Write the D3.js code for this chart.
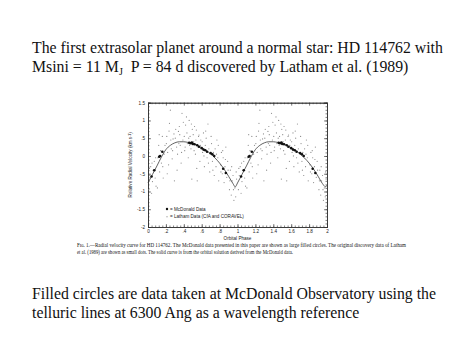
<!DOCTYPE html>
<html>
<head>
<meta charset="utf-8">
<script src="https://cdn.jsdelivr.net/npm/d3@7"></script>
<style>
  body { margin: 0; background: #fff; }
  svg { display: block; }
</style>
</head>
<body>
<svg id="chart" width="474" height="355"></svg>
<script>
// text
const titleLines = ["The first extrasolar planet around a normal star: HD 114762 with"];
const captionLines = [
  "Fɪɢ. 1.\u2014Radial velocity curve for HD 114762. The McDonald data presented in this paper are shown as large filled circles. The original discovery data of Latham",
  "et al. (1989) are shown as small dots. The solid curve is from the orbital solution derived from the McDonald data."
];
const noteLines = [
  "Filled circles are data taken at McDonald Observatory using the",
  "telluric lines at 6300 Ang as a wavelength reference"
];

// axes
const xTicks = [0, 0.2, 0.4, 0.6, 0.8, 1, 1.2, 1.4, 1.6, 1.8, 2];
const xTickLabels = ["0", ".2", ".4", ".6", ".8", "1", "1.2", "1.4", "1.6", "1.8", "2"];
const yTicks = [1.5, 1, 0.5, 0, -0.5, -1, -1.5, -2];
const yTickLabels = ["1.5", "1", ".5", "0", "-.5", "-1", "-1.5", "-2"];

// orbital solution (phase, km/s)
const curvePhase = [0, 0.05, 0.1, 0.15, 0.2, 0.25, 0.3, 0.35, 0.4, 0.45, 0.5, 0.55, 0.6, 0.65, 0.7, 0.75, 0.8, 0.85, 0.9, 0.95, 0.975,
  1.0, 1.05, 1.1, 1.15, 1.2, 1.25, 1.3, 1.35, 1.4, 1.45, 1.5, 1.55, 1.6, 1.65, 1.7, 1.75, 1.8, 1.85, 1.9, 1.95, 1.985, 2.0];
const curveVel = [-0.76, -0.52, -0.28, -0.03, 0.18, 0.3, 0.37, 0.4, 0.4, 0.38, 0.35, 0.3, 0.23, 0.15, 0.06, -0.06, -0.2, -0.37, -0.57, -0.78, -0.87,
  -0.76, -0.52, -0.28, -0.03, 0.18, 0.3, 0.37, 0.4, 0.4, 0.38, 0.35, 0.3, 0.23, 0.15, 0.06, -0.06, -0.2, -0.37, -0.57, -0.78, -0.87, -0.82];

// McDonald data (phase folded, plotted twice)
const mcdPhase = [0.04, 0.07, 0.125, 0.135, 0.16, 0.46, 0.475, 0.49, 0.5, 0.52, 0.55, 0.57, 0.6, 0.62, 0.64, 0.66, 0.7, 0.72, 0.74, 0.84, 0.87];
const mcdVel = [-0.58, -0.4, -0.02, 0.0, 0.12, 0.37, 0.36, 0.38, 0.34, 0.33, 0.3, 0.26, 0.22, 0.18, 0.16, 0.12, 0.08, 0.05, 0.0, -0.36, -0.48];

// Latham et al. data (phase folded, plotted twice)
const lathamPhase = [
  0.01, 0.02, 0.03, 0.04, 0.05, 0.06, 0.07, 0.08, 0.09,
  0.11, 0.12, 0.13, 0.14, 0.15, 0.16, 0.17, 0.18, 0.19,
  0.21, 0.22, 0.23, 0.24, 0.25, 0.26, 0.27, 0.28, 0.29, 0.295,
  0.31, 0.32, 0.33, 0.34, 0.35, 0.36, 0.37, 0.38, 0.39, 0.395,
  0.41, 0.42, 0.43, 0.44, 0.45, 0.46, 0.47, 0.48, 0.49, 0.495,
  0.51, 0.52, 0.53, 0.54, 0.55, 0.56, 0.57, 0.58, 0.59,
  0.61, 0.62, 0.63, 0.64, 0.65, 0.66, 0.67, 0.68, 0.69,
  0.71, 0.72, 0.73, 0.74, 0.75, 0.76, 0.77, 0.78, 0.79,
  0.81, 0.82, 0.83, 0.84, 0.85, 0.86, 0.87, 0.88, 0.89,
  0.91, 0.92, 0.93, 0.94, 0.95, 0.96, 0.97, 0.98, 0.99,
  0.015, 0.045, 0.085, 0.105, 0.125, 0.165, 0.205, 0.215, 0.235, 0.255,
  0.275, 0.305, 0.325, 0.345, 0.355, 0.375, 0.405, 0.415, 0.435, 0.455,
  0.465, 0.485, 0.505, 0.515, 0.535, 0.545, 0.565, 0.585, 0.605, 0.625,
  0.645, 0.675, 0.705, 0.725, 0.765, 0.785, 0.815, 0.835, 0.865, 0.895,
  0.915, 0.935, 0.955, 0.985
];
const lathamVel = [
  -0.95, -0.55, -0.3, -1.05, -0.72, -0.4, -0.15, -0.62, -0.85,
  -0.05, 0.3, -0.45, 0.15, -0.2, 0.55, -0.62, 0.05, 0.3,
  0.55, 0.1, -0.25, 0.92, 1.29, 0.2, -0.08, 0.48, 0.62, -0.7,
  0.75, 0.25, 0.05, 0.69, 0.83, 0.3, -0.2, 1.2, 0.45, 0.95,
  0.15, 0.87, 1.1, 0.35, -0.05, 1.0, 0.55, 0.2, -0.65, 0.75,
  0.4, 0.83, 0.05, 0.73, -0.7, 0.25, 0.59, -0.15, 0.45,
  0.1, 0.65, -0.3, 0.3, 0.5, -0.05, 0.9, 0.2, -0.45,
  0.35, -0.15, 0.1, -0.55, 0.2, -0.3, 0.45, -0.05, -0.7,
  -0.25, 0.1, -0.5, -0.05, -0.75, -0.3, 0.25, -0.6, -0.15,
  -0.95, -0.4, -1.1, -0.7, -0.55, -1.25, -0.9, -1.15, -0.65,
  -0.35, -0.2, -0.05, -0.9, 0.6, -0.3, 0.35, -0.5, 0.7, 0.45,
  0.15, 0.5, -0.4, 0.35, 0.6, 0.1, 0.55, 0.25, 0.65, 0.5,
  0.3, 0.9, 0.6, 0.15, 0.45, -0.35, 0.55, 0.3, 0.4, 0.0,
  0.7, -0.2, 0.55, -0.4, 0.05, 0.3, -0.45, 0.15, -0.1, -0.4,
  -0.7, -0.3, -0.95, -0.45
];

const svg = d3.select("#chart");
svg.append("rect").attr("width", 474).attr("height", 355).attr("fill", "#fff");

// heading
const serif = "'Liberation Serif', 'Times New Roman', serif";
const title = svg.append("text")
  .attr("font-family", serif).attr("font-size", 15.8).attr("fill", "#111");
title.append("tspan").attr("x", 32).attr("y", 53).text(titleLines[0]);
const t2 = title.append("tspan").attr("x", 32).attr("y", 72);
t2.append("tspan").text("Msini = 11 M");
t2.append("tspan").attr("font-size", 10).attr("dy", 3).text("J");
t2.append("tspan").attr("dy", -3).text("\u00a0 P = 84 d discovered by Latham et al. (1989)");

// plot
const x = d3.scaleLinear().domain([0, 2]).range([148, 327]);
const y = d3.scaleLinear().domain([-2, 1.5]).range([227, 102.7]);
const sans = "'Liberation Sans', Arial, sans-serif";
const ink = "#333";

const plot = svg.append("g").attr("font-family", sans);

const xMinor = d3.range(0, 2.0001, 0.04);
const yMinor = d3.range(-2, 1.5001, 0.1);

function styleAxis(g) {
  g.select(".domain").attr("stroke", ink).attr("stroke-width", 0.8);
  g.selectAll(".tick line").attr("stroke", ink).attr("stroke-width", 0.6);
  g.selectAll(".tick text").attr("fill", "#222").attr("font-size", 4.6).attr("font-family", sans);
}

plot.append("g").attr("transform", `translate(0,${y(-2)})`)
  .call(d3.axisBottom(x).tickValues(xTicks).tickSize(-3).tickPadding(3)
    .tickFormat((d, i) => xTickLabels[i]))
  .call(styleAxis);
plot.append("g").attr("transform", `translate(0,${y(-2)})`)
  .call(d3.axisBottom(x).tickValues(xMinor).tickSize(-1.5).tickFormat(""))
  .call(styleAxis);
plot.append("g").attr("transform", `translate(0,${y(1.5)})`)
  .call(d3.axisTop(x).tickValues(xTicks).tickSize(-3).tickFormat(""))
  .call(styleAxis);
plot.append("g").attr("transform", `translate(0,${y(1.5)})`)
  .call(d3.axisTop(x).tickValues(xMinor).tickSize(-1.5).tickFormat(""))
  .call(styleAxis);

plot.append("g").attr("transform", `translate(${x(0)},0)`)
  .call(d3.axisLeft(y).tickValues(yTicks).tickSize(-3).tickPadding(3)
    .tickFormat((d, i) => yTickLabels[i]))
  .call(styleAxis);
plot.append("g").attr("transform", `translate(${x(0)},0)`)
  .call(d3.axisLeft(y).tickValues(yMinor).tickSize(-1.5).tickFormat(""))
  .call(styleAxis);
plot.append("g").attr("transform", `translate(${x(2)},0)`)
  .call(d3.axisRight(y).tickValues(yTicks).tickSize(-3).tickFormat(""))
  .call(styleAxis);
plot.append("g").attr("transform", `translate(${x(2)},0)`)
  .call(d3.axisRight(y).tickValues(yMinor).tickSize(-1.5).tickFormat(""))
  .call(styleAxis);

// axis titles
plot.append("text")
  .attr("x", (x(0) + x(2)) / 2).attr("y", 240)
  .attr("text-anchor", "middle").attr("font-size", 4.6).attr("fill", "#222")
  .text("Orbital Phase");
const yl = plot.append("text")
  .attr("transform", `translate(132,${(y(-2) + y(1.5)) / 2}) rotate(-90)`)
  .attr("text-anchor", "middle").attr("font-size", 4.6).attr("fill", "#222");
yl.append("tspan").text("Relative Radial Velocity (km s");
yl.append("tspan").attr("font-size", 3.4).attr("dy", -1.5).text("-1");
yl.append("tspan").attr("dy", 1.5).text(")");

// Latham small dots
const lathamPts = [];
[0, 1].forEach(off => lathamPhase.forEach((p, i) => lathamPts.push([p + off, lathamVel[i]])));
plot.append("g").selectAll("circle").data(lathamPts).join("circle")
  .attr("cx", d => x(d[0])).attr("cy", d => y(d[1]))
  .attr("r", 0.6).attr("fill", "#8a8a8a");

// orbital solution curve
const curvePts = curvePhase.map((p, i) => [p, curveVel[i]]);
plot.append("path").datum(curvePts)
  .attr("fill", "none").attr("stroke", "#3a3a3a").attr("stroke-width", 0.8)
  .attr("d", d3.line().x(d => x(d[0])).y(d => y(d[1])).curve(d3.curveMonotoneX));

// McDonald large dots
const mcdPts = [];
[0, 1].forEach(off => mcdPhase.forEach((p, i) => mcdPts.push([p + off, mcdVel[i]])));
plot.append("g").selectAll("circle").data(mcdPts).join("circle")
  .attr("cx", d => x(d[0])).attr("cy", d => y(d[1]))
  .attr("r", 1.3).attr("fill", "#111");

// legend
const lg = plot.append("g").attr("font-size", 4.6).attr("fill", "#222");
lg.append("circle").attr("cx", 167).attr("cy", 209).attr("r", 1.2).attr("fill", "#111");
lg.append("text").attr("x", 170).attr("y", 210.6).text("= McDonald Data");
lg.append("circle").attr("cx", 167).attr("cy", 216.8).attr("r", 0.55).attr("fill", "#666");
lg.append("text").attr("x", 170).attr("y", 218.4).text("= Latham Data (CfA and CORAVEL)");

// figure caption
const cap = svg.append("g").attr("font-family", serif).attr("font-size", 5.2).attr("fill", "#111");
cap.append("text").attr("x", 77).attr("y", 247).attr("textLength", 329).attr("lengthAdjust", "spacingAndGlyphs")
  .text(captionLines[0]);
cap.append("text").attr("x", 77).attr("y", 254).attr("textLength", 216).attr("lengthAdjust", "spacingAndGlyphs")
  .text(captionLines[1]);

// note under the figure
const note = svg.append("text").attr("font-family", serif).attr("font-size", 15.8).attr("fill", "#111");
note.append("tspan").attr("x", 32).attr("y", 299).text(noteLines[0]);
note.append("tspan").attr("x", 32).attr("y", 318).text(noteLines[1]);
</script>
</body>
</html>
